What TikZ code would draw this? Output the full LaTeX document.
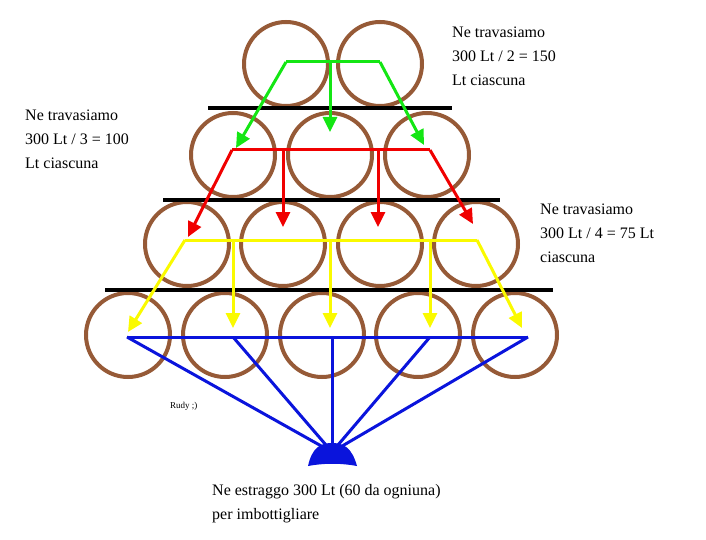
\documentclass[tikz,border=0pt]{standalone}
\usepackage{fontspec}
\setmainfont{Liberation Serif}
\usetikzlibrary{arrows.meta}
\begin{document}
\begin{tikzpicture}[x=1pt,y=-1pt,
  barrel/.style={draw=brown1,line width=4pt},
  shelf/.style={draw=black,line width=4pt},
  arr/.style={line width=3pt,-{Triangle[length=15pt,width=14pt]}},
  lbl/.style={font=\fontsize{16}{24}\selectfont,align=left,anchor=north west,inner sep=0pt}]
\definecolor{brown1}{RGB}{150,90,55}
\definecolor{gr}{RGB}{20,230,20}
\definecolor{rd}{RGB}{240,0,0}
\definecolor{yl}{RGB}{250,250,0}
\definecolor{bl}{RGB}{10,20,220}
\useasboundingbox (0,0) rectangle (706,540);
% barrels
\foreach \x in {286,380} \draw[barrel] (\x,64) circle (42);
\foreach \x in {233,330,427} \draw[barrel] (\x,155) circle (42);
\foreach \x in {187,283,380,476} \draw[barrel] (\x,244) circle (42);
\foreach \x in {128,225,322,418,515} \draw[barrel] (\x,335) circle (42);
% shelves
\draw[shelf] (208,108) -- (452,108);
\draw[shelf] (163,200) -- (500,200);
\draw[shelf] (105,290) -- (553,290);
% green
\coordinate (g1) at (286,62); \coordinate (g2) at (380,62);
\draw[gr,line width=3pt] (g1) -- (g2);
\draw[gr,arr] (g1) -- (236,148);
\draw[gr,arr] (330,62) -- (330,132);
\draw[gr,arr] (g2) -- (424,145);
% red
\coordinate (r1) at (232,150); \coordinate (r2) at (430,150);
\draw[rd,line width=3pt] (r1) -- (r2);
\draw[rd,arr] (r1) -- (188,237);
\draw[rd,arr] (283,150) -- (283,227);
\draw[rd,arr] (378,150) -- (378,227);
\draw[rd,arr] (r2) -- (473,224);
% yellow
\coordinate (y1) at (185,240); \coordinate (y2) at (477,240);
\draw[yl,line width=3pt] (y1) -- (y2);
\draw[yl,arr] (y1) -- (128,332);
\draw[yl,arr] (233,240) -- (233,328);
\draw[yl,arr] (330,240) -- (330,328);
\draw[yl,arr] (430,240) -- (430,328);
\draw[yl,arr] (y2) -- (522,328);
% blue
\coordinate (b1) at (127,337); \coordinate (b2) at (528,337);
\coordinate (bc) at (332,452);
\draw[bl,line width=3pt] (b1) -- (b2);
\foreach \x in {127,233,332,430,528} \draw[bl,line width=3pt] (\x,337) -- (bc);
\fill[bl] (308,466) .. controls (312,448) and (320,443) .. (332,443) .. controls (344,443) and (352,448) .. (357,466) .. controls (340,463) and (325,463) .. cycle;
% labels
\node[lbl] (t1) at (452,27) {Ne travasiamo\\300 Lt / 2 = 150\\Lt ciascuna};
\node[lbl] (t2) at (25,110) {Ne travasiamo\\300 Lt / 3 = 100\\Lt ciascuna};
\node[lbl] (t3) at (540,204) {Ne travasiamo\\300 Lt / 4 = 75 Lt\\ciascuna};
\node[lbl] (t4) at (212,484) {Ne estraggo 300 Lt (60 da ogniuna)\\per imbottigliare};
\node[font=\fontsize{9}{10}\selectfont,anchor=north west,inner sep=0pt] (t5) at (170,402) {Rudy ;)};
\end{tikzpicture}
\end{document}
